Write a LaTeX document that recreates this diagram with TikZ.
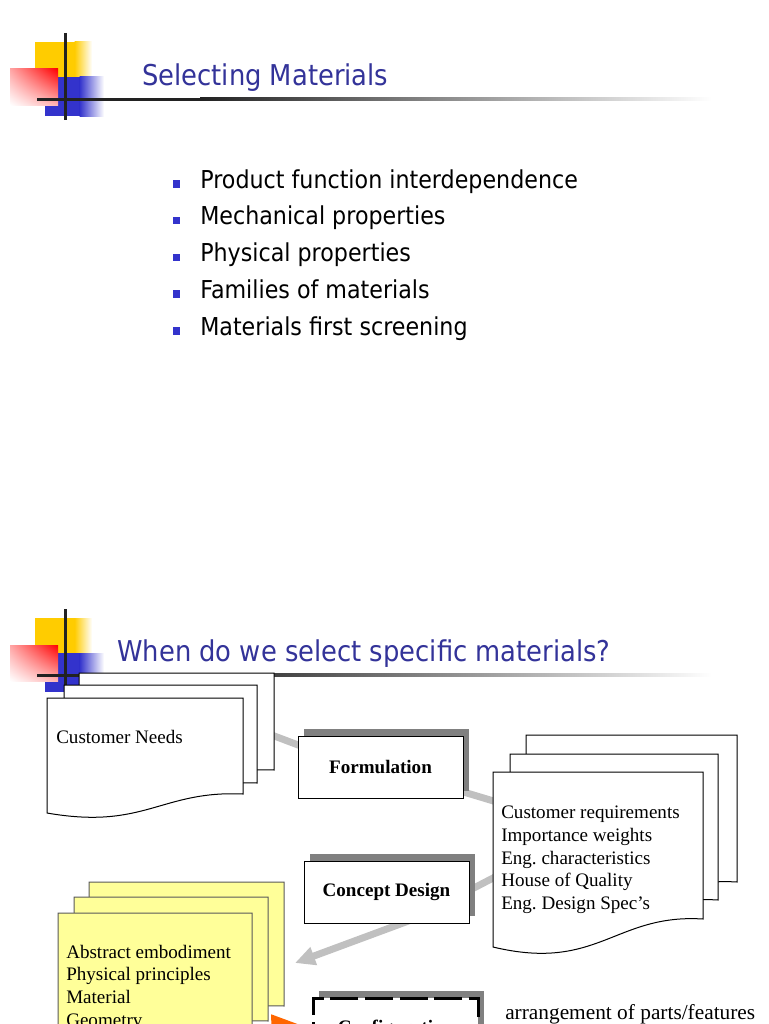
\documentclass[tikz,border=0pt]{standalone}
\usepackage{fontspec}
\setmainfont{Liberation Serif}
\newfontfamily\slidesans[FakeStretch=0.9]{DejaVu Sans}
\usetikzlibrary{arrows.meta,shadows,shadings,backgrounds}
\frenchspacing

\definecolor{titleblue}{RGB}{51,51,153}
\definecolor{bulletblue}{RGB}{51,51,204}
\definecolor{headyellow}{RGB}{255,204,0}
\definecolor{headblue}{RGB}{51,51,204}
\definecolor{headline}{RGB}{34,34,34}
\definecolor{linkgray}{RGB}{192,192,192}
\definecolor{shadowgray}{RGB}{128,128,128}
\definecolor{noteyellow}{RGB}{255,255,153}
\definecolor{arroworange}{RGB}{255,102,0}

\tikzset{
  page/.style={draw=black, fill=white, line width=0.75pt},
  notepage/.style={page, draw=black!65, fill=noteyellow},
  pagetext/.style={inner sep=0pt, align=left, font=\fontsize{14.3}{17}\selectfont},
  stepbox/.style={draw=black, fill=white, line width=0.75pt, inner sep=0pt,
    minimum width=123.75pt, minimum height=46.5pt,
    font=\fontsize{14.3}{17}\selectfont\bfseries,
    drop shadow={shadow xshift=4.5pt, shadow yshift=5.25pt, opacity=1, fill=shadowgray}},
  link/.style={draw=linkgray, line width=5.25pt},
  item/.style={anchor=base west, inner sep=0pt, font=\slidesans\fontsize{18.5}{22}\selectfont},
  slidetitle/.style={anchor=base west, inner sep=0pt, text=titleblue,
    font=\slidesans\fontsize{21.5}{26}\selectfont},
}

%% sheet with a wavy lower edge: x1, y1, x2, y2 (right bottom), wave drop
\newcommand\docsheet[6][page]{%
  \pgfmathsetmacro\sheetw{#4-#2}%
  \filldraw[#1] (#2,#3) -- (#4,#3) -- (#4,#5)
    .. controls ({#4-0.42*\sheetw},{#5-0.2*#6}) and ({#2+0.5*\sheetw},{#5+1.9*#6})
    .. (#2,{#5+#6}) -- cycle;}

\begin{document}
\begin{tikzpicture}[x=0.75pt, y=-0.75pt]
  \useasboundingbox (0,0) rectangle (768,1024);
  \clip (0,0) rectangle (768,1024);

  %% slide headers
  \foreach \dy/\tx/\title in {0/142/Selecting Materials, 576/117/When do we select specific materials?}{
    \fill[headyellow] (35,42+\dy) rectangle (75,77+\dy);
    \shade[left color=headyellow, right color=white] (74.5,42+\dy) rectangle (92,77+\dy);
    \fill[headblue] (45,77+\dy) rectangle (80,116+\dy);
    \shade[left color=headblue, right color=white] (79.5,77+\dy) rectangle (104,116+\dy);
    \shade[upper left=red!35, upper right=red, lower left=white, lower right=red!30]
      (10,69+\dy) rectangle (58,105+\dy);
    \draw[headline, line width=2.25pt] (65,33+\dy) -- (65,120+\dy);
    \fill[headline] (37,97.5+\dy) rectangle (200.5,100.5+\dy);
    \shade[left color=headline, right color=white] (200,97.5+\dy) rectangle (712,100.5+\dy);
    \node[slidetitle] (title\dy) at (\tx,85+\dy) {\title};
  }

  %% bullet list
  \foreach \txt [count=\i] in {Product function interdependence, Mechanical properties,
      Physical properties, Families of materials, Materials first screening}{
    \pgfmathsetmacro\yy{188+36.8*(\i-1)}
    \fill[bulletblue] (172.5,\yy-8) rectangle (180,\yy-0.5);
    \node[item] (item\i) at (200,\yy) {\txt};
  }

  %% design stages
  \docsheet{79}{673}{274}{770}{19}
  \docsheet{64}{685}{257}{783}{19}
  \docsheet{47}{698}{243}{794}{19}
  \node[pagetext, anchor=base west] (needs) at (56,743) {Customer Needs};

  \docsheet{526}{735}{737}{882}{28}
  \docsheet{510}{754}{718}{900}{28}
  \docsheet{493}{772}{703}{919}{28}
  \node[pagetext, anchor=west] (spec) at (501,860) {Customer requirements\\Importance weights\\
    Eng. characteristics\\House of Quality\\Eng. Design Spec's};

  \docsheet[notepage]{89}{882}{284}{1006}{19}
  \docsheet[notepage]{74}{897}{268}{1021}{19}
  \docsheet[notepage]{58}{913}{252}{1037}{19}
  \node[pagetext, anchor=west] (notes) at (66,987.5) {Abstract embodiment\\Physical principles\\
    Material\\Geometry};

  \node[stepbox] (form) at (380.5,767) {Formulation};
  \node[stepbox] (concept) at (386.5,892) {Concept Design};
  \node[stepbox, line width=2.25pt, dash pattern=on 21pt off 5pt] (config) at (395.5,1029) {Configuration};
  \node[pagetext, anchor=base west, font=\fontsize{16}{19}\selectfont] (arrange) at (505,1019)
    {arrangement of parts/features};

  %% connectors behind the boxes
  \begin{scope}[on background layer]
    \coordinate (needs out) at (200,708);
    \coordinate (form in) at (330,757);
    \coordinate (spec in) at (560,821);
    \coordinate (spec out) at (540,853.6);
    \coordinate (concept in) at (440,905.6);
    \coordinate (concept out) at (420,916.7);
    \coordinate (notes in) at (295,963);
    \coordinate (notes out) at (240,1031);
    \draw[link] (needs out) -- (form in);
    \draw[link] (form.center) -- (spec in);
    \draw[link] (spec out) -- (concept in);
    \draw[link, -{Triangle[length=15pt, width=13.5pt]}] (concept out) -- (notes in);
    \draw[arroworange, line width=4.5pt, -{Triangle[length=30pt, width=22.5pt]}]
      (notes out) -- (config.west);
  \end{scope}
\end{tikzpicture}
\end{document}
